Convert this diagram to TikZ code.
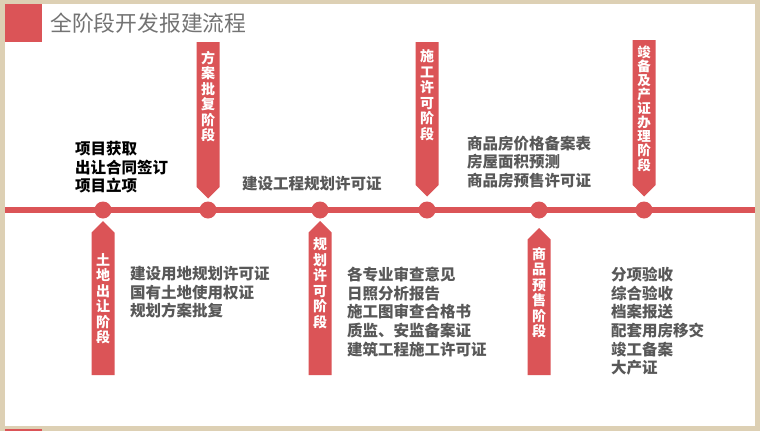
\documentclass[tikz,border=0pt]{standalone}
\usepackage{fontspec}
\setmainfont{Noto Sans CJK SC}
\usepackage{xcolor}
\usetikzlibrary{calc, positioning}

\definecolor{flagred}{HTML}{DB5457}
\definecolor{paper}{HTML}{DDD0B4}
\definecolor{notegray}{HTML}{585858}
\definecolor{titlegray}{HTML}{737373}

\tikzset{
  dot/.style={circle, fill=flagred, minimum size=17pt, inner sep=0},
  flagtext/.style={text=white, font=\bfseries\fontsize{14}{15.5}\selectfont, align=center, inner sep=0},
  note/.style={text=notegray, font=\bfseries\fontsize{15.5}{18.6}\selectfont, align=left, inner sep=0, anchor=north west}
}

\begin{document}
\begin{tikzpicture}[x=1pt, y=-1pt]
% Background
\fill[paper] (0,0) rectangle (760,431);
\fill[white] (5,4) rectangle (755,426);
\useasboundingbox (0,0) rectangle (760,431);

% Title
\fill[flagred] (5,4) rectangle (42,42);
\fill[flagred] (5,429) rectangle (42,431);
\node[anchor=west, inner sep=0, text=titlegray, font=\fontsize{21.8}{24}\selectfont] (title) at (50,23) {全阶段开发报建流程};

% Timeline
\coordinate (tl-start) at (5,210);
\coordinate (tl-end) at (755,210);
\draw[flagred, line width=6pt] (tl-start) -- (tl-end);
\foreach \x [count=\i] in {103, 208, 320, 427, 539, 644}
  \node[dot] (d\i) at (\x,210) {};

% Flags above the line
\foreach \x/\t/\b in {208/42/187, 427/42/185, 644/40/185}
  \fill[flagred] (\x-11.5,\t) -- (\x+11.5,\t) -- (\x+11.5,\b) -- (\x,\b+11.5) -- (\x-11.5,\b) -- cycle;
% Flags below the line
\foreach \x/\t in {103/221, 320/221, 539/228}
  \fill[flagred] (\x,\t) -- (\x+11.5,\t+11.5) -- (\x+11.5,375) -- (\x-11.5,375) -- (\x-11.5,\t+11.5) -- cycle;

% Flag labels
\node[flagtext] (land) at (103,298.5) {土\\地\\出\\让\\阶\\段};
\node[flagtext] (scheme) at (208,96.5) {方\\案\\批\\复\\阶\\段};
\node[flagtext] (planning) at (320,283.5) {规\\划\\许\\可\\阶\\段};
\node[flagtext] (construct) at (427,95) {施\\工\\许\\可\\阶\\段};
\node[flagtext] (presale) at (539,292.5) {商\\品\\预\\售\\阶\\段};
\node[flagtext, font=\bfseries\fontsize{13.5}{14.1}\selectfont] (complete) at (644,108.5) {竣\\备\\及\\产\\证\\办\\理\\阶\\段};

% Descriptions
\node[note, text=black] (acquire) at (75,141) {项目获取\\出让合同签订\\项目立项};
\node[note] (landdocs) at (130,266) {建设用地规划许可证\\国有土地使用权证\\规划方案批复};
\node[note] (schemedocs) at (242,176.5) {建设工程规划许可证};
\node[note] (plandocs) at (347,267) {各专业审查意见\\日照分析报告\\施工图审查合格书\\质监、安监备案证\\建筑工程施工许可证};
\node[note] (saledocs) at (467,135.5) {商品房价格备案表\\房屋面积预测\\商品房预售许可证};
\node[note] (finaldocs) at (611,267) {分项验收\\综合验收\\档案报送\\配套用房移交\\竣工备案\\大产证};
\end{tikzpicture}
\end{document}
